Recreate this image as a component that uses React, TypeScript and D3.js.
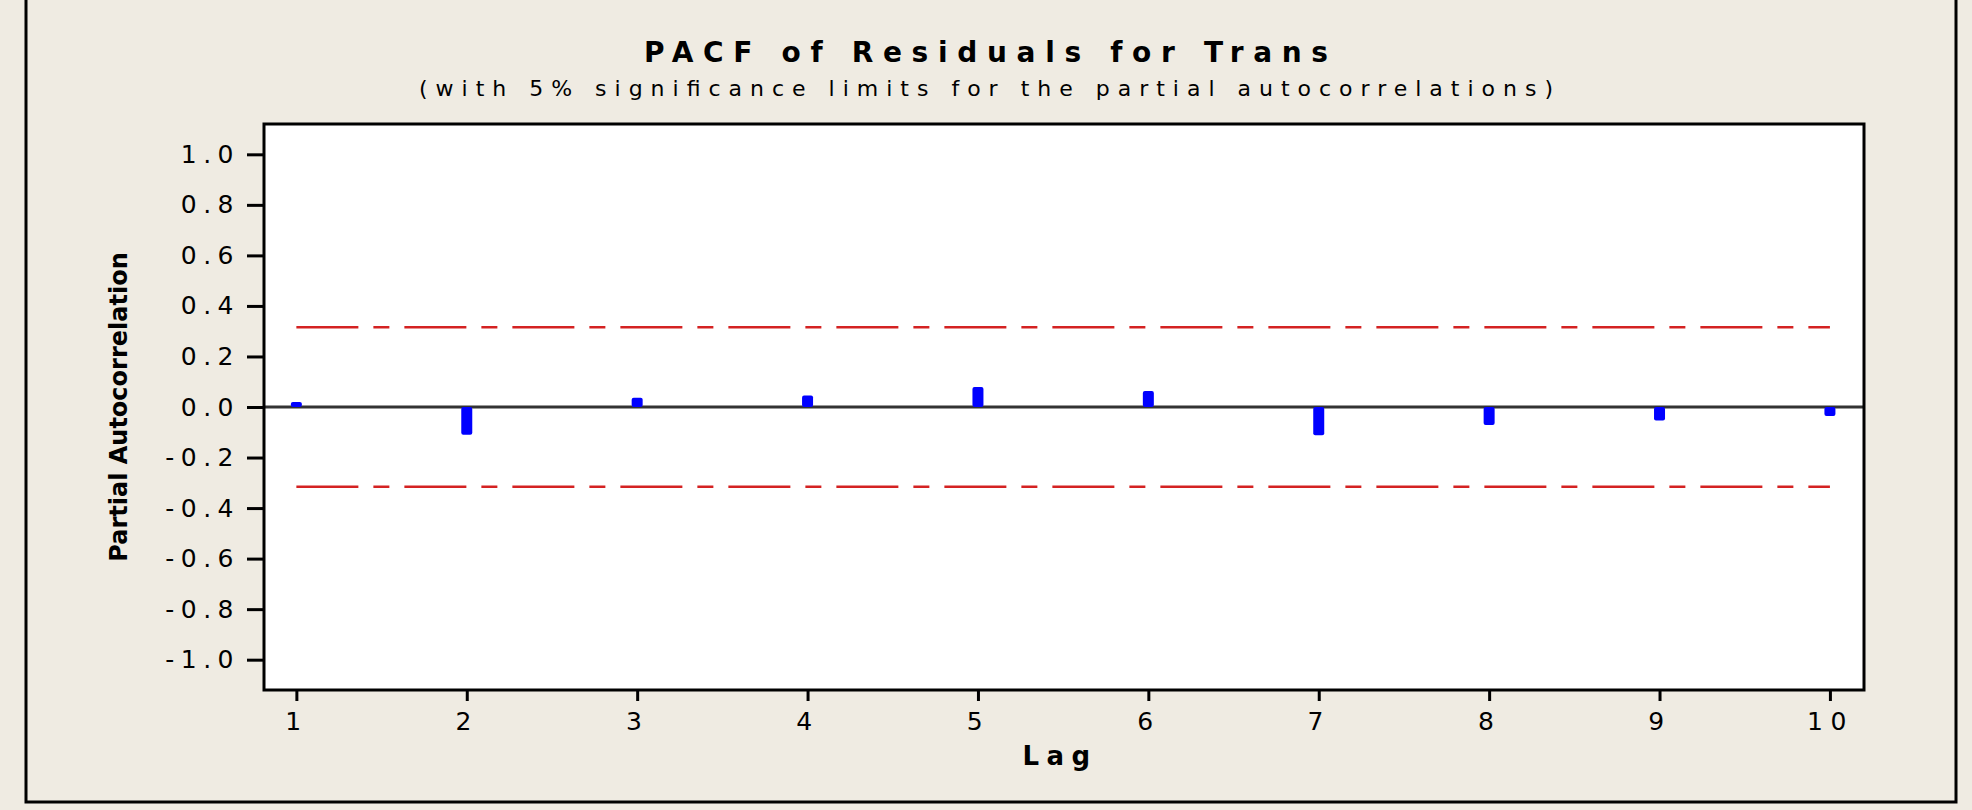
import * as d3 from 'd3';
import { useEffect, useRef } from 'react';

// PACF of residuals, lags 1..10
const lags = [1, 2, 3, 4, 5, 6, 7, 8, 9, 10];
const pacf = [0.02, -0.11, 0.037, 0.046, 0.079, 0.063, -0.112, -0.071, -0.053, -0.036];
const sigLimit = 0.316;
const yTicks = [-1.0, -0.8, -0.6, -0.4, -0.2, 0.0, 0.2, 0.4, 0.6, 0.8, 1.0];

const W = 1972;
const H = 810;
const FONT = '"DejaVu Sans", Verdana, sans-serif';

export default function App() {
  const svgRef = useRef<SVGSVGElement>(null);

  useEffect(() => {
    if (!svgRef.current) return;
    const svg = d3.select(svgRef.current);
    svg.selectAll('*').remove();

    const plot = { left: 264, right: 1864, top: 124, bottom: 690 };

    const x = d3.scaleLinear().domain([0.81, 10.2]).range([plot.left, plot.right]);
    const y = d3.scaleLinear().domain([-1.12, 1.12]).range([plot.bottom, plot.top]);

    // Background + frame
    svg.append('rect').attr('width', W).attr('height', H).attr('fill', '#EFEBE2');
    svg
      .append('rect')
      .attr('x', 26)
      .attr('y', -10)
      .attr('width', 1930)
      .attr('height', 812)
      .attr('fill', 'none')
      .attr('stroke', '#000')
      .attr('stroke-width', 3);

    // Plot area
    svg
      .append('rect')
      .attr('x', plot.left)
      .attr('y', plot.top)
      .attr('width', plot.right - plot.left)
      .attr('height', plot.bottom - plot.top)
      .attr('fill', '#fff');

    // Significance limits
    [sigLimit, -sigLimit].forEach((v) => {
      svg
        .append('line')
        .attr('x1', x(1))
        .attr('x2', x(10))
        .attr('y1', y(v))
        .attr('y2', y(v))
        .attr('stroke', '#D42222')
        .attr('stroke-width', 2.5)
        .attr('stroke-dasharray', '62 15 16 15');
    });

    // Zero line
    svg
      .append('line')
      .attr('x1', plot.left)
      .attr('x2', plot.right)
      .attr('y1', y(0))
      .attr('y2', y(0))
      .attr('stroke', '#333')
      .attr('stroke-width', 3);

    // Bars
    svg
      .append('g')
      .selectAll('rect')
      .data(lags)
      .join('rect')
      .attr('x', (d) => x(d) - 5.5)
      .attr('width', 11)
      .attr('y', (_, i) => Math.min(y(0), y(pacf[i])))
      .attr('height', (_, i) => Math.abs(y(0) - y(pacf[i])))
      .attr('rx', 2)
      .attr('fill', '#0000FF');

    // Plot border
    svg
      .append('rect')
      .attr('x', plot.left)
      .attr('y', plot.top)
      .attr('width', plot.right - plot.left)
      .attr('height', plot.bottom - plot.top)
      .attr('fill', 'none')
      .attr('stroke', '#000')
      .attr('stroke-width', 3);

    // Y axis
    const yAxis = svg
      .append('g')
      .attr('transform', `translate(${plot.left},0)`)
      .call(
        d3
          .axisLeft(y)
          .tickValues(yTicks)
          .tickSize(17)
          .tickPadding(7)
          .tickFormat((d) => (d as number).toFixed(1)),
      );
    yAxis.select('.domain').remove();
    yAxis.selectAll('line').attr('stroke', '#000').attr('stroke-width', 3);
    yAxis
      .selectAll('text')
      .attr('fill', '#000')
      .attr('font-family', FONT)
      .attr('font-size', 25)
      .attr('letter-spacing', 6.5);

    // X axis
    const xAxis = svg
      .append('g')
      .attr('transform', `translate(0,${plot.bottom})`)
      .call(d3.axisBottom(x).tickValues(lags).tickSize(11).tickPadding(11).tickFormat(d3.format('d')));
    xAxis.select('.domain').remove();
    xAxis.selectAll('line').attr('stroke', '#000').attr('stroke-width', 3);
    xAxis
      .selectAll('text')
      .attr('fill', '#000')
      .attr('font-family', FONT)
      .attr('font-size', 25)
      .attr('letter-spacing', 7.5);

    // Titles
    svg
      .append('text')
      .attr('x', 986)
      .attr('y', 62)
      .attr('text-anchor', 'middle')
      .attr('font-family', FONT)
      .attr('font-weight', 'bold')
      .attr('font-size', 28)
      .attr('textLength', 684)
      .attr('lengthAdjust', 'spacing')
      .text('PACF of Residuals for Trans');

    svg
      .append('text')
      .attr('x', 986)
      .attr('y', 96)
      .attr('text-anchor', 'middle')
      .attr('font-family', FONT)
      .attr('font-size', 22)
      .attr('textLength', 1134)
      .attr('lengthAdjust', 'spacing')
      .text('(with 5% significance limits for the partial autocorrelations)');

    // Axis labels
    svg
      .append('text')
      .attr('x', 1060)
      .attr('y', 765)
      .attr('text-anchor', 'middle')
      .attr('font-family', FONT)
      .attr('font-weight', 'bold')
      .attr('font-size', 26)
      .attr('letter-spacing', 7.5)
      .text('Lag');

    svg
      .append('text')
      .attr('transform', 'translate(127,407) rotate(-90)')
      .attr('text-anchor', 'middle')
      .attr('font-family', FONT)
      .attr('font-weight', 'bold')
      .attr('font-size', 24)
      .text('Partial Autocorrelation');
  }, []);

  return (
    <svg
      ref={svgRef}
      width={W}
      height={H}
      style={{ position: 'fixed', left: 0, top: 0, display: 'block' }}
    />
  );
}
